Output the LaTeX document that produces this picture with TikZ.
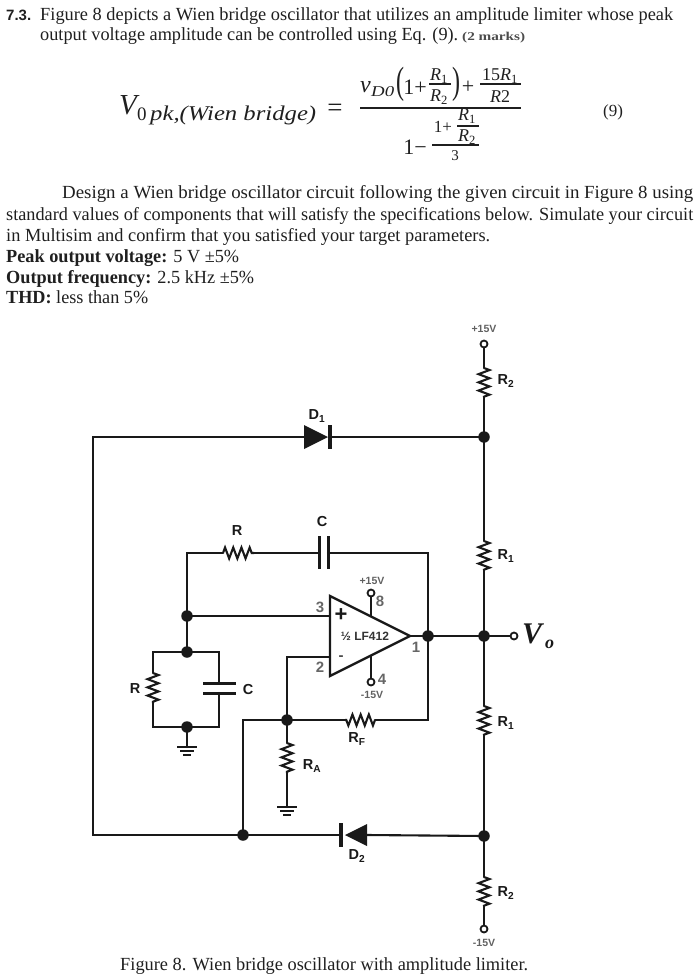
\documentclass[tikz,border=0pt]{standalone}
\usepackage{graphicx}
\usepackage{fontspec}
\setmainfont{Liberation Serif}
\setsansfont{Liberation Sans}
\usetikzlibrary{decorations.pathmorphing}
\newcommand{\fitline}[2]{\resizebox{#1pt}{\height}{#2}}
\tikzset{
  x=1pt,y=-1pt,
  wire/.style={line width=2.1pt,line join=miter,line cap=round,color=wireblack},
  resist/.style={line width=2.1pt,color=wireblack,decorate,decoration={zigzag,amplitude=5.5pt,segment length=8.2pt}},
  plate/.style={line width=3pt,color=wireblack},
  dot/.style={circle,fill=wireblack,inner sep=0pt,minimum size=11.5pt},
  term/.style={circle,draw=wireblack,fill=white,line width=1.8pt,inner sep=0pt,minimum size=7pt},
  body/.style={anchor=base west,inner sep=0pt,font=\fontsize{18.5}{20}\selectfont,color=textblack},
  lab/.style={inner sep=0pt,font=\sffamily\bfseries\fontsize{14.5}{16}\selectfont,color=wireblack},
  sup/.style={inner sep=0pt,font=\sffamily\bfseries\fontsize{10.5}{12}\selectfont,color=black!62},
  pin/.style={inner sep=0pt,font=\sffamily\bfseries\fontsize{15}{16}\selectfont,color=black!60},
  eq/.style={inner sep=0pt,color=textblack},
  eqs/.style={eq,font=\itshape\fontsize{18}{20}\selectfont},
  eqn/.style={eq,font=\fontsize{17}{18}\selectfont},
  fracbar/.style={line width=1.2pt,color=textblack},
}
\definecolor{wireblack}{gray}{0.1}
\definecolor{textblack}{gray}{0.12}
\begin{document}
\begin{tikzpicture}
\useasboundingbox (0,0) rectangle (699,979);
% text
\node[body,font=\sffamily\bfseries\fontsize{15}{16}\selectfont] (t0) at (6,21) {7.3.};
\node[body] (t1) at (40,21) {\fitline{633}{Figure 8 depicts a Wien bridge oscillator that utilizes an amplitude limiter whose peak}};
\node[body] (t2) at (40,41) {\fitline{418}{output voltage amplitude can be controlled using Eq. (9).}};
\node[body,font=\bfseries\fontsize{12}{13}\selectfont,color=black!70] (t3) at (462,41) {\fitline{63}{(2 marks)}};
\node[body] (p1) at (62,198) {\fitline{631}{Design a Wien bridge oscillator circuit following the given circuit in Figure 8 using}};
\node[body] (p2) at (6,220) {\fitline{687}{standard values of components that will satisfy the specifications below. Simulate your circuit}};
\node[body] (p3) at (6,241) {\fitline{484}{in Multisim and confirm that you satisfied your target parameters.}};
\node[body] (p4) at (6,262) {\fitline{233}{\textbf{Peak output voltage:} 5 V ±5\%}};
\node[body] (p5) at (6,283) {\fitline{248}{\textbf{Output frequency:} 2.5 kHz ±5\%}};
\node[body] (p6) at (6,303) {\fitline{142}{\textbf{THD:} less than 5\%}};
\node[body] (cap) at (120,970) {\fitline{408}{Figure 8. Wien bridge oscillator with amplitude limiter.}};
% equation
\node[eq,anchor=base west,font=\itshape\fontsize{29}{30}\selectfont] (eqV) at (119,114) {V};
\node[eq,anchor=base west,font=\fontsize{19}{20}\selectfont] (eqZ) at (137,121) {0};
\node[eq,anchor=base west,font=\itshape\fontsize{21}{22}\selectfont] (eqL) at (150,121) {\fitline{166}{pk,(Wien bridge)}};
\node[eq,font=\fontsize{27}{28}\selectfont] (eqE) at (335,110) {=};
\draw[line width=1.6pt,color=textblack] (360,108) -- (521,108);
\node[eq,anchor=base west,font=\itshape\fontsize{24}{26}\selectfont] (nv) at (360,93) {v};
\node[eq,anchor=base west,font=\itshape\fontsize{15}{16}\selectfont] (nd) at (371,97) {\fitline{23}{D0}};
\node[eq,font=\fontsize{38}{40}\selectfont] (nl) at (400,84) {\resizebox{8pt}{\height}{(}};
\node[eqn,font=\fontsize{22}{24}\selectfont] (n1) at (415,87) {1+};
\node[eqs] (nr1) at (439,76) {R\textsubscript{\upshape 1}};
\draw[fracbar] (429,84) -- (451,84);
\node[eqs] (nr2) at (439,97) {R\textsubscript{\upshape 2}};
\node[eq,font=\fontsize{38}{40}\selectfont] (nr) at (456,84) {\resizebox{8pt}{\height}{)}};
\node[eqn,font=\fontsize{22}{24}\selectfont] (np) at (468,87) {+};
\node[eqs] (n15) at (500,76) {{\upshape 15}R\textsubscript{\upshape 1}};
\draw[fracbar] (480,84) -- (521,84);
\node[eqs] (n2) at (500,97) {R{\upshape 2}};
\node[eqn,font=\fontsize{22}{24}\selectfont] (d1) at (415,147) {1−};
\node[eqn] (d2) at (443,127) {1+};
\node[eqs] (dr1) at (467,116) {R\textsubscript{\upshape 1}};
\draw[fracbar] (457,126) -- (479,126);
\node[eqs] (dr2) at (467,137) {R\textsubscript{\upshape 2}};
\draw[fracbar] (432,145) -- (479,145);
\node[eqn,font=\fontsize{15}{16}\selectfont] (d3) at (455,156) {3};
\node[eq,font=\fontsize{17}{20}\selectfont] (eq9) at (613,112) {(9)};
% named points
\node[term] (vp) at (484,344) {};
\coordinate (r2ta) at (484,368); \coordinate (r2tb) at (484,397);
\node[dot] (jt) at (484,437) {};
\coordinate (r1ta) at (484,541); \coordinate (r1tb) at (484,570);
\node[dot] (jo) at (484,636) {};
\coordinate (r1ba) at (484,706); \coordinate (r1bb) at (484,735);
\node[dot] (jb) at (484,836) {};
\coordinate (r2ba) at (484,877); \coordinate (r2bb) at (484,906);
\node[term] (vm) at (484,929) {};
\node[term] (vout) at (514,636) {};
\coordinate (tl) at (93,437); \coordinate (bl) at (93,835);
\node[dot] (jd) at (243,835) {};
\node[dot] (jp) at (187,616) {};
\node[dot] (jq) at (187,652) {};
\node[dot] (jg) at (187,727) {};
\node[dot] (jf) at (287,720) {};
\node[dot] (ja) at (428,636) {};
\coordinate (tlc) at (187,553); \coordinate (trc) at (428,553);
\coordinate (ra) at (223,553); \coordinate (rb) at (254,553);
\coordinate (ca) at (319,553); \coordinate (cb) at (328,553);
\coordinate (ql) at (153,652); \coordinate (qr) at (219,652);
\coordinate (gl) at (153,727); \coordinate (gr) at (219,727);
\coordinate (rpa) at (153,673); \coordinate (rpb) at (153,703);
\coordinate (cpa) at (219,683); \coordinate (cpb) at (219,693);
\coordinate (g1) at (187,747); \coordinate (g2) at (287,807);
\coordinate (opT) at (330,596); \coordinate (opB) at (330,676); \coordinate (opO) at (410,636);
\coordinate (opP) at (330,616); \coordinate (opM) at (330,657);
\coordinate (n8) at (371,616); \coordinate (n4) at (371,656);
\node[term] (p8) at (371,593) {};
\node[term] (p4t) at (371,682) {};
\coordinate (mc) at (287,657); \coordinate (fr) at (428,720);
\coordinate (rfa) at (345,720); \coordinate (rfb) at (375,720);
\coordinate (raa) at (287,743); \coordinate (rab) at (287,773);
\coordinate (dl) at (243,720);
\coordinate (d1a) at (304,437); \coordinate (d1b) at (330,437);
\coordinate (d2a) at (367,835); \coordinate (d2b) at (341,835);
% wires
\draw[wire] (vp) -- (r2ta);
\draw[resist] (r2ta) -- (r2tb);
\draw[wire] (r2tb) -- (jt.center) -- (r1ta);
\draw[resist] (r1ta) -- (r1tb);
\draw[wire] (r1tb) -- (jo.center) -- (r1ba);
\draw[resist] (r1ba) -- (r1bb);
\draw[wire] (r1bb) -- (jb.center) -- (r2ba);
\draw[resist] (r2ba) -- (r2bb);
\draw[wire] (r2bb) -- (vm);
\draw[wire] (ja.center) -- (vout);
\draw[wire] (opO) -- (ja.center);
\draw[wire] (jt.center) -- (d1b);
\draw[wire] (d1a) -- (tl) -- (bl) -- (d2b);
\draw[wire] (jb.center) -- (d2a);
\draw[wire] (jq.center) -- (tlc) -- (ra);
\draw[resist] (ra) -- (rb);
\draw[wire] (rb) -- (ca);
\draw[wire] (cb) -- (trc) -- (fr) -- (rfb);
\draw[resist] (rfb) -- (rfa);
\draw[wire] (rfa) -- (jf.center) -- (dl) -- (jd.center);
\draw[wire] (jp.center) -- (opP);
\draw[wire] (jf.center) -- (mc) -- (opM);
\draw[wire] (jf.center) -- (raa);
\draw[resist] (raa) -- (rab);
\draw[wire] (rab) -- (g2);
\draw[wire] (rpa) -- (ql) -- (qr) -- (cpa);
\draw[wire] (rpb) -- (gl) -- (gr) -- (cpb);
\draw[resist] (rpa) -- (rpb);
\draw[wire] (jg.center) -- (g1);
\draw[wire] (n8) -- (p8);
\draw[wire] (n4) -- (p4t);
\draw[wire,line width=2.3pt,fill=white] (opT) -- (opB) -- (opO) -- cycle;
% capacitor plates
\draw[plate] (319,536) -- (319,569);
\draw[plate] (328,536) -- (328,569);
\draw[plate] (203,683) -- (236,683);
\draw[plate] (203,693) -- (236,693);
% grounds
\foreach \gx/\gy in {187/747,287/807}{
  \draw[line width=1.9pt,color=wireblack] (\gx-10,\gy) -- (\gx+10,\gy);
  \draw[line width=1.9pt,color=wireblack] (\gx-7,\gy+4) -- (\gx+7,\gy+4);
  \draw[line width=1.9pt,color=wireblack] (\gx-4,\gy+8) -- (\gx+4,\gy+8);
}
% diodes
\fill[wireblack] (304,425) -- (304,449) -- (328,437) -- cycle;
\draw[plate,line width=3.4pt] (330,425) -- (330,449);
\fill[wireblack] (367,824) -- (367,846) -- (345,835) -- cycle;
\draw[plate,line width=3.4pt] (341,823) -- (341,847);
% labels
\node[lab] (lr2t) at (506,381) {R\textsubscript{2}};
\node[lab] (lr1t) at (506,556) {R\textsubscript{1}};
\node[lab] (lr1b) at (506,723) {R\textsubscript{1}};
\node[lab] (lr2b) at (506,893) {R\textsubscript{2}};
\node[sup] (lvp) at (484,329) {+15V};
\node[sup] (lvm) at (484,943) {-15V};
\node[lab] (ld1) at (317,416) {D\textsubscript{1}};
\node[lab] (ld2) at (357,856) {D\textsubscript{2}};
\node[lab] (lR) at (237,531) {R};
\node[lab] (lC) at (322,522) {C};
\node[lab] (lRp) at (135,689) {R};
\node[lab] (lCp) at (248,689) {C};
\node[lab] (lRF) at (357,739) {R\textsubscript{F}};
\node[lab] (lRA) at (312,766) {R\textsubscript{A}};
\node[sup] (l8v) at (372,581) {+15V};
\node[sup] (l4v) at (372,695) {-15V};
\node[pin] (n8l) at (380,601) {8};
\node[pin] (n4l) at (382,679) {4};
\node[pin] (n3l) at (320,607) {3};
\node[pin] (n2l) at (320,667) {2};
\node[pin] (n1l) at (416,647) {1};
\node[inner sep=0pt,font=\sffamily\bfseries\fontsize{22}{24}\selectfont,color=wireblack] (plus) at (341,615) {+};
\node[inner sep=0pt,font=\sffamily\bfseries\fontsize{15}{16}\selectfont,color=black!70] (minus) at (341,658) {-};
\node[inner sep=0pt,font=\sffamily\bfseries\fontsize{12}{14}\selectfont,color=black!80] (opl) at (365,636) {½ LF412};
\node[anchor=base west,inner sep=0pt,font=\bfseries\itshape\fontsize{30}{32}\selectfont,color=wireblack] (vo) at (522,643) {V};
\node[anchor=base west,inner sep=0pt,font=\bfseries\itshape\fontsize{18}{20}\selectfont,color=wireblack] (vo2) at (545,648) {o};
\end{tikzpicture}
\end{document}
